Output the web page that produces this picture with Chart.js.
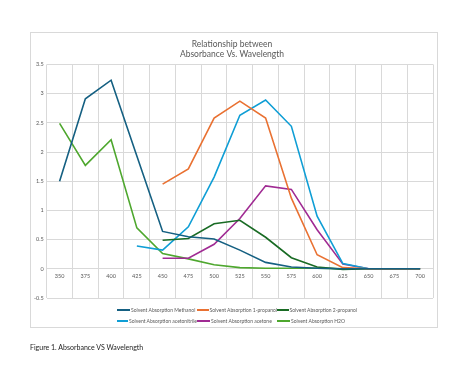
<!DOCTYPE html>
<html>
<head>
<meta charset="utf-8">
<script src="https://cdn.jsdelivr.net/npm/chart.js@4/dist/chart.umd.min.js"></script>
<style>
  body { margin: 0; background: #fff; font-family: "Lato", "Noto Sans", sans-serif; }
  #box { position: absolute; left: 30px; top: 32px; width: 406px; height: 294px; border: 1px solid #d9d9d9; }
  #wrap { position: absolute; left: 0; top: 0; width: 406px; height: 294px; }
  #legend { position: absolute; left: 86px; top: 273px; width: 240px; display: grid; grid-template-columns: 80px 80px 80px; row-gap: 3px; }
  .item { display: flex; align-items: center; font-size: 5px; color: #595959; white-space: nowrap; height: 8px; }
  .sw { display: inline-block; width: 13px; height: 2px; margin-right: 1px; }
  #caption { position: absolute; left: 30px; top: 343px; font-size: 7px; color: #222; }
</style>
</head>
<body>
<div id="box">
  <div id="wrap"><canvas id="myChart"></canvas></div>
  <div id="legend"></div>
</div>
<div id="caption">Figure 1. Absorbance VS Wavelength</div>
<script>
var wavelengths = ['350', '375', '400', '425', '450', '475', '500', '525', '550', '575', '600', '625', '650', '675', '700']

var methanol = [1.50, 2.91, 3.23, 1.93, 0.64, 0.55, 0.51, 0.32, 0.11, 0.03, 0.01, 0.00, 0.00, 0.00, 0.00]
var propanol1 = [null, null, null, null, 1.45, 1.71, 2.58, 2.87, 2.58, 1.21, 0.24, 0.02, 0.00, 0.00, 0.00]
var propanol2 = [null, null, null, null, 0.49, 0.52, 0.77, 0.83, 0.54, 0.19, 0.03, -0.01, 0.00, 0.00, 0.00]
var acetonitrile = [null, null, null, 0.39, 0.32, 0.72, 1.57, 2.63, 2.89, 2.44, 0.90, 0.09, 0.00, 0.00, 0.00]
var acetone = [null, null, null, null, 0.18, 0.18, 0.42, 0.86, 1.42, 1.36, 0.67, 0.08, 0.00, 0.00, 0.00]
var h2o = [2.49, 1.77, 2.21, 0.70, 0.26, 0.17, 0.07, 0.02, 0.01, 0.01, 0.01, 0.00, 0.00, 0.00, 0.00]

var seriesNames = ['Solvent Absorption Methanol', 'Solvent Absorption 1-propanol', 'Solvent Absorption 2-propanol',
    'Solvent Absorption acetonitrile', 'Solvent Absorption acetone', 'Solvent Absorption H2O']
var seriesData = [methanol, propanol1, propanol2, acetonitrile, acetone, h2o]
var colors = ['#156082', '#E97132', '#196B24', '#0F9ED5', '#A02B93', '#4EA72E']

var datasets = []
for (var i = 0; i < seriesData.length; i++) {
    datasets.push({
        label: seriesNames[i],
        data: seriesData[i],
        borderColor: colors[i],
        backgroundColor: colors[i],
        borderWidth: 1.6,
        pointRadius: 0,
        tension: 0,
        spanGaps: false
    })
}

Chart.defaults.font.family = '"Lato", "Noto Sans", sans-serif'

var ctx = document.getElementById('myChart').getContext('2d')
var chart = new Chart(ctx, {
    type: 'line',
    data: { labels: wavelengths, datasets: datasets },
    options: {
        responsive: true,
        maintainAspectRatio: false,
        animation: false,
        layout: { padding: { left: 0, right: 4, top: 0, bottom: 29 } },
        plugins: {
            legend: { display: false },
            tooltip: { enabled: false },
            title: {
                display: true,
                text: ['Relationship between', 'Absorbance Vs. Wavelength'],
                color: '#595959',
                font: { size: 8.5, weight: 'normal' },
                lineHeight: 1.25,
                padding: { top: 6, bottom: 5 }
            }
        },
        scales: {
            x: {
                position: { y: 0 },
                offset: true,
                grid: { offset: true, color: '#d9d9d9', drawTicks: false },
                border: { color: '#d9d9d9' },
                ticks: { color: '#595959', font: { size: 5.5 }, padding: 4, maxRotation: 0, autoSkip: false }
            },
            y: {
                min: -0.5,
                max: 3.5,
                grid: { color: '#d9d9d9', drawTicks: false },
                border: { display: false },
                ticks: {
                    stepSize: 0.5, color: '#595959', font: { size: 5.5 }, padding: 3,
                    callback: function (value) { return String(Math.round(value * 10) / 10) }
                }
            }
        }
    }
})

// legend laid out in three columns like the original
var html_code = ''
var legendBox = document.getElementById('legend')
chart.data.datasets.forEach(function (ds) {
    html_code += '<div class="item"><span class="sw" style="background:' + ds.borderColor + '"></span>' + ds.label + '</div>'
})
legendBox.innerHTML = html_code
</script>
</body>
</html>
